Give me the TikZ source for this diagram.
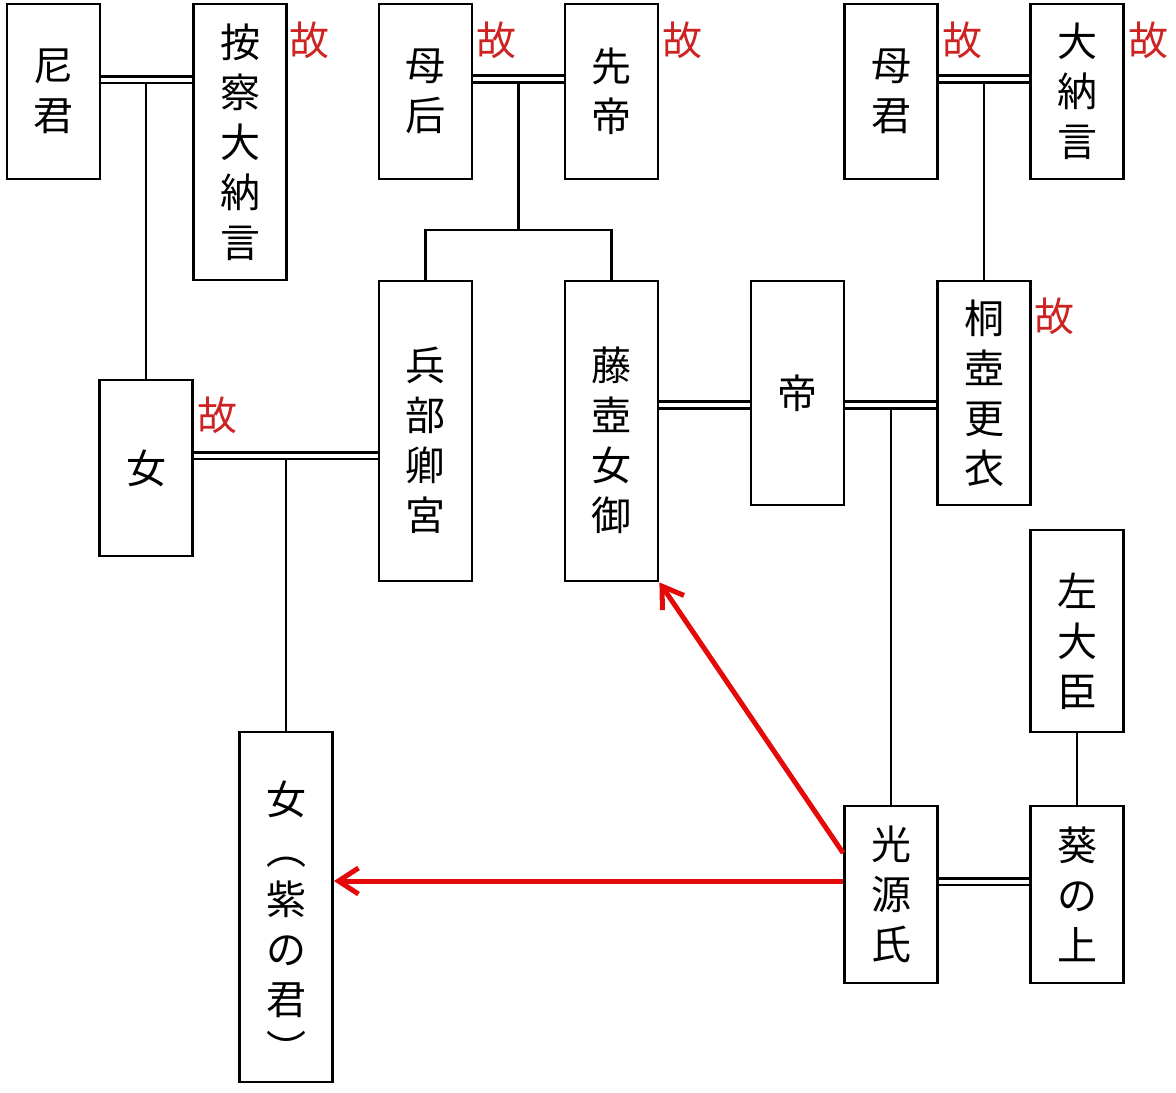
\documentclass[tikz,border=0pt]{standalone}
\usepackage{fontspec}
\newfontfamily\jp{Noto Sans CJK JP}
\usetikzlibrary{arrows.meta,calc,backgrounds}
\definecolor{kored}{RGB}{205,35,35}
\definecolor{arrred}{RGB}{228,10,10}
\begin{document}
\begin{tikzpicture}[x=0.5pt,y=-0.5pt,
  box/.style={draw, line width=1.4pt, fill=white, minimum width=46.5pt, inner sep=0pt, align=center, font=\jp\fontsize{20pt}{25pt}\selectfont},
  vt/.style={align=center, inner sep=0pt, font=\jp\fontsize{20pt}{25pt}\selectfont},
  ko/.style={text=kored, inner sep=0pt, font=\jp\fontsize{20pt}{20pt}\selectfont},
  ln/.style={line width=1.3pt},
  dbl/.style={double, double distance=2pt, line width=1.3pt},
  rarr/.style={draw=arrred, line width=2.5pt, -{Straight Barb[length=10pt,width=13pt]}}
]
\useasboundingbox (0,0) rectangle (1176,1092);
% boxes
\node[box, minimum height=87.5pt] (nikimi) at (53.5,91.5) {尼\\君};
\node[box, minimum height=138pt] (azechi) at (240,142) {按\\察\\大\\納\\言};
\node[box, minimum height=87.5pt] (bokou) at (425.5,91.5) {母\\后};
\node[box, minimum height=87.5pt] (sentei) at (611.5,91.5) {先\\帝};
\node[box, minimum height=87.5pt] (hahagimi) at (891,91.5) {母\\君};
\node[box, minimum height=87.5pt] (dainagon) at (1077,91.5) {大\\納\\言};
\node[box, minimum height=88pt] (onna) at (146,468) {女};
\node[box, minimum height=150pt] (hyobu) at (425.5,431) {};
\node[vt] (hyobuT) at (425.5,440) {兵\\部\\卿\\宮};
\node[box, minimum height=150pt] (fuji) at (611.5,431) {};
\node[vt] (fujiT) at (611.5,440) {藤\\壺\\女\\御};
\node[box, minimum height=112pt] (mikado) at (797.5,393) {帝};
\node[box, minimum height=112pt] (kiri) at (984,393) {桐\\壺\\更\\衣};
\node[box, minimum height=101pt] (sadaijin) at (1077,631) {};
\node[vt] (sadaijinT) at (1077,641) {左\\大\\臣};
\node[box, minimum height=175pt] (murasaki) at (286,907) {};
\node[vt] (murasakiT) at (286,923) {女\\︵\\紫\\の\\君\\︶};
\node[box, minimum height=88.5pt] (genji) at (891,894.5) {光\\源\\氏};
\node[box, minimum height=88.5pt] (aoi) at (1077,894.5) {葵\\の\\上};
% ko labels
\node[ko] (ko1) at (309,40) {故};
\node[ko] (ko2) at (496,40) {故};
\node[ko] (ko3) at (682,40) {故};
\node[ko] (ko4) at (962,40) {故};
\node[ko] (ko5) at (1148,40) {故};
\node[ko] (ko6) at (217,415) {故};
\node[ko] (ko7) at (1054,316) {故};
% connectors
\begin{scope}[on background layer]
\coordinate (m1) at ($(nikimi.east)+(0,-12)$);
\draw[dbl] (m1) -- (m1 -| azechi.west);
\draw[ln] ($(m1 -| onna.north)+(0,3.5)$) -- (onna.north);
\coordinate (m2) at ($(bokou.east)+(0,-12.5)$);
\draw[dbl] (m2) -- (m2 -| sentei.west);
\coordinate (m2mid) at ($(m2)!0.5!(m2 -| sentei.west)$);
\coordinate (br) at ($(m2mid)+(0,151)$);
\draw[ln] ($(m2mid)+(0,3.5)$) -- (br);
\draw[ln] (hyobu.north) |- (br) -| (fuji.north);
\coordinate (m3) at ($(hahagimi.east)+(0,-12.5)$);
\draw[dbl] (m3) -- (m3 -| dainagon.west);
\draw[ln] ($(m3 -| kiri.north)+(0,3.5)$) -- (kiri.north);
\coordinate (m4) at ($(onna.east)+(0,-12.5)$);
\draw[dbl] (m4) -- (m4 -| hyobu.west);
\draw[ln] ($(m4 -| murasaki.north)+(0,3.5)$) -- (murasaki.north);
\coordinate (m5) at ($(mikado.west)+(0,12)$);
\draw[dbl] (m5 -| fuji.east) -- (m5);
\coordinate (m6) at ($(mikado.east)+(0,12)$);
\draw[dbl] (m6) -- (m6 -| kiri.west);
\draw[ln] ($(m6 -| genji.north)+(0,3.5)$) -- (genji.north);
\coordinate (m7) at ($(genji.east)+(0,-13)$);
\draw[dbl] (m7) -- (m7 -| aoi.west);
\draw[ln] (sadaijin.south) -- (aoi.north);
\end{scope}
% red arrows
\coordinate (g1) at ($(genji.west)+(0,-41.5)$);
\coordinate (g2) at ($(genji.west)+(0,-13.5)$);
\draw[rarr] (g1) -- (fuji.south east);
\draw[rarr] (g2) -- (g2 -| murasaki.east);
\end{tikzpicture}
\end{document}
